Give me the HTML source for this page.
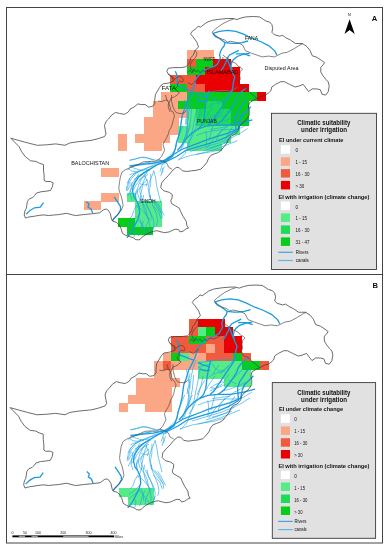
<!DOCTYPE html>
<html><head><meta charset="utf-8"><title>Climatic suitability under irrigation</title>
<style>html,body{margin:0;padding:0;background:#fff;} svg{display:block;}</style></head>
<body>
<svg width="390" height="550" viewBox="0 0 390 550">
<rect width="390" height="550" fill="#fff"/>
<g><g shape-rendering="crispEdges"><rect x="187.00" y="50.10" width="9.15" height="8.80" fill="#fba685"/>
<rect x="195.75" y="50.10" width="9.15" height="8.80" fill="#fba685"/>
<rect x="204.50" y="50.10" width="9.15" height="8.80" fill="#fba685"/>
<rect x="187.00" y="58.50" width="9.15" height="8.80" fill="#f25a3e"/>
<rect x="195.75" y="58.50" width="9.15" height="8.80" fill="#06cc1a"/>
<rect x="204.50" y="58.50" width="9.15" height="8.80" fill="#06cc1a"/>
<rect x="213.25" y="58.50" width="9.15" height="8.80" fill="#ea0000"/>
<rect x="222.00" y="58.50" width="9.15" height="8.80" fill="#ea0000"/>
<rect x="187.00" y="66.90" width="9.15" height="8.80" fill="#06cc1a"/>
<rect x="195.75" y="66.90" width="9.15" height="8.80" fill="#06cc1a"/>
<rect x="204.50" y="66.90" width="9.15" height="8.80" fill="#ea0000"/>
<rect x="213.25" y="66.90" width="9.15" height="8.80" fill="#ea0000"/>
<rect x="222.00" y="66.90" width="9.15" height="8.80" fill="#ea0000"/>
<rect x="230.75" y="66.90" width="9.15" height="8.80" fill="#ea0000"/>
<rect x="169.80" y="75.30" width="9.00" height="8.80" fill="#f25a3e"/>
<rect x="178.40" y="75.30" width="9.00" height="8.80" fill="#f25a3e"/>
<rect x="187.00" y="75.30" width="9.15" height="8.80" fill="#f25a3e"/>
<rect x="195.75" y="75.30" width="9.15" height="8.80" fill="#ea0000"/>
<rect x="204.50" y="75.30" width="9.15" height="8.80" fill="#ea0000"/>
<rect x="213.25" y="75.30" width="9.15" height="8.80" fill="#ea0000"/>
<rect x="222.00" y="75.30" width="9.15" height="8.80" fill="#ea0000"/>
<rect x="230.75" y="75.30" width="9.15" height="8.80" fill="#ea0000"/>
<rect x="169.80" y="83.70" width="9.00" height="8.80" fill="#06cc1a"/>
<rect x="178.40" y="83.70" width="9.00" height="8.80" fill="#06cc1a"/>
<rect x="187.00" y="83.70" width="9.15" height="8.80" fill="#f25a3e"/>
<rect x="195.75" y="83.70" width="9.15" height="8.80" fill="#f25a3e"/>
<rect x="204.50" y="83.70" width="9.15" height="8.80" fill="#ea0000"/>
<rect x="213.25" y="83.70" width="9.15" height="8.80" fill="#ea0000"/>
<rect x="222.00" y="83.70" width="9.15" height="8.80" fill="#ea0000"/>
<rect x="230.75" y="83.70" width="9.15" height="8.80" fill="#ea0000"/>
<rect x="239.50" y="83.70" width="9.15" height="8.80" fill="#ea0000"/>
<rect x="161.20" y="92.10" width="9.00" height="8.80" fill="#fba685"/>
<rect x="169.80" y="92.10" width="9.00" height="8.80" fill="#fba685"/>
<rect x="178.40" y="92.10" width="9.00" height="8.80" fill="#fba685"/>
<rect x="187.00" y="92.10" width="9.15" height="8.80" fill="#06cc1a"/>
<rect x="195.75" y="92.10" width="9.15" height="8.80" fill="#06cc1a"/>
<rect x="204.50" y="92.10" width="9.15" height="8.80" fill="#06cc1a"/>
<rect x="213.25" y="92.10" width="9.15" height="8.80" fill="#06cc1a"/>
<rect x="222.00" y="92.10" width="9.15" height="8.80" fill="#06cc1a"/>
<rect x="230.75" y="92.10" width="9.15" height="8.80" fill="#06cc1a"/>
<rect x="239.50" y="92.10" width="9.15" height="8.80" fill="#06cc1a"/>
<rect x="248.25" y="92.10" width="9.15" height="8.80" fill="#06cc1a"/>
<rect x="257.00" y="92.10" width="9.15" height="8.80" fill="#ea0000"/>
<rect x="152.60" y="100.50" width="9.00" height="8.80" fill="#fba685"/>
<rect x="161.20" y="100.50" width="9.00" height="8.80" fill="#fba685"/>
<rect x="169.80" y="100.50" width="9.00" height="8.80" fill="#fba685"/>
<rect x="178.40" y="100.50" width="9.00" height="8.80" fill="#06cc1a"/>
<rect x="187.00" y="100.50" width="9.15" height="8.80" fill="#06cc1a"/>
<rect x="195.75" y="100.50" width="9.15" height="8.80" fill="#06cc1a"/>
<rect x="204.50" y="100.50" width="9.15" height="8.80" fill="#1ddc55"/>
<rect x="213.25" y="100.50" width="9.15" height="8.80" fill="#1ddc55"/>
<rect x="222.00" y="100.50" width="9.15" height="8.80" fill="#06cc1a"/>
<rect x="230.75" y="100.50" width="9.15" height="8.80" fill="#06cc1a"/>
<rect x="239.50" y="100.50" width="9.15" height="8.80" fill="#06cc1a"/>
<rect x="152.60" y="108.90" width="9.00" height="8.80" fill="#fba685"/>
<rect x="161.20" y="108.90" width="9.00" height="8.80" fill="#fba685"/>
<rect x="169.80" y="108.90" width="9.00" height="8.80" fill="#fba685"/>
<rect x="178.40" y="108.90" width="9.00" height="8.80" fill="#fba685"/>
<rect x="187.00" y="108.90" width="9.15" height="8.80" fill="#55ec88"/>
<rect x="195.75" y="108.90" width="9.15" height="8.80" fill="#1ddc55"/>
<rect x="204.50" y="108.90" width="9.15" height="8.80" fill="#1ddc55"/>
<rect x="213.25" y="108.90" width="9.15" height="8.80" fill="#1ddc55"/>
<rect x="222.00" y="108.90" width="9.15" height="8.80" fill="#1ddc55"/>
<rect x="230.75" y="108.90" width="9.15" height="8.80" fill="#06cc1a"/>
<rect x="239.50" y="108.90" width="9.15" height="8.80" fill="#06cc1a"/>
<rect x="144.00" y="117.30" width="9.00" height="8.80" fill="#fba685"/>
<rect x="152.60" y="117.30" width="9.00" height="8.80" fill="#fba685"/>
<rect x="161.20" y="117.30" width="9.00" height="8.80" fill="#fba685"/>
<rect x="169.80" y="117.30" width="9.00" height="8.80" fill="#fba685"/>
<rect x="187.00" y="117.30" width="9.15" height="8.80" fill="#55ec88"/>
<rect x="195.75" y="117.30" width="9.15" height="8.80" fill="#1ddc55"/>
<rect x="204.50" y="117.30" width="9.15" height="8.80" fill="#1ddc55"/>
<rect x="213.25" y="117.30" width="9.15" height="8.80" fill="#1ddc55"/>
<rect x="222.00" y="117.30" width="9.15" height="8.80" fill="#1ddc55"/>
<rect x="230.75" y="117.30" width="9.15" height="8.80" fill="#06cc1a"/>
<rect x="239.50" y="117.30" width="9.15" height="8.80" fill="#06cc1a"/>
<rect x="144.00" y="125.70" width="9.00" height="8.80" fill="#fba685"/>
<rect x="152.60" y="125.70" width="9.00" height="8.80" fill="#fba685"/>
<rect x="161.20" y="125.70" width="9.00" height="8.80" fill="#fba685"/>
<rect x="169.80" y="125.70" width="9.00" height="8.80" fill="#fba685"/>
<rect x="178.40" y="125.70" width="9.00" height="8.80" fill="#55ec88"/>
<rect x="187.00" y="125.70" width="9.15" height="8.80" fill="#55ec88"/>
<rect x="195.75" y="125.70" width="9.15" height="8.80" fill="#55ec88"/>
<rect x="204.50" y="125.70" width="9.15" height="8.80" fill="#55ec88"/>
<rect x="213.25" y="125.70" width="9.15" height="8.80" fill="#55ec88"/>
<rect x="222.00" y="125.70" width="9.15" height="8.80" fill="#55ec88"/>
<rect x="230.75" y="125.70" width="9.15" height="8.80" fill="#55ec88"/>
<rect x="118.20" y="134.10" width="9.00" height="8.80" fill="#fba685"/>
<rect x="135.40" y="134.10" width="9.00" height="8.80" fill="#fba685"/>
<rect x="144.00" y="134.10" width="9.00" height="8.80" fill="#fba685"/>
<rect x="152.60" y="134.10" width="9.00" height="8.80" fill="#fba685"/>
<rect x="161.20" y="134.10" width="9.00" height="8.80" fill="#fba685"/>
<rect x="178.40" y="134.10" width="9.00" height="8.80" fill="#55ec88"/>
<rect x="187.00" y="134.10" width="9.15" height="8.80" fill="#55ec88"/>
<rect x="195.75" y="134.10" width="9.15" height="8.80" fill="#55ec88"/>
<rect x="204.50" y="134.10" width="9.15" height="8.80" fill="#55ec88"/>
<rect x="213.25" y="134.10" width="9.15" height="8.80" fill="#55ec88"/>
<rect x="222.00" y="134.10" width="9.15" height="8.80" fill="#55ec88"/>
<rect x="118.20" y="142.50" width="9.00" height="8.80" fill="#fba685"/>
<rect x="144.00" y="142.50" width="9.00" height="8.80" fill="#fba685"/>
<rect x="152.60" y="142.50" width="9.00" height="8.80" fill="#fba685"/>
<rect x="187.00" y="142.50" width="9.15" height="8.80" fill="#55ec88"/>
<rect x="195.75" y="142.50" width="9.15" height="8.80" fill="#55ec88"/>
<rect x="204.50" y="142.50" width="9.15" height="8.80" fill="#55ec88"/>
<rect x="213.25" y="142.50" width="9.15" height="8.80" fill="#55ec88"/>
<rect x="101.00" y="167.70" width="9.00" height="8.80" fill="#fba685"/>
<rect x="109.60" y="167.70" width="9.00" height="8.80" fill="#fba685"/>
<rect x="101.00" y="192.90" width="9.00" height="8.80" fill="#fba685"/>
<rect x="109.60" y="192.90" width="9.00" height="8.80" fill="#fba685"/>
<rect x="126.80" y="192.90" width="9.00" height="8.80" fill="#55ec88"/>
<rect x="83.80" y="201.30" width="9.00" height="8.80" fill="#fba685"/>
<rect x="92.40" y="201.30" width="9.00" height="8.80" fill="#fba685"/>
<rect x="135.40" y="201.30" width="9.00" height="8.80" fill="#55ec88"/>
<rect x="144.00" y="201.30" width="9.00" height="8.80" fill="#55ec88"/>
<rect x="152.60" y="201.30" width="9.00" height="8.80" fill="#55ec88"/>
<rect x="135.40" y="209.70" width="9.00" height="8.80" fill="#55ec88"/>
<rect x="144.00" y="209.70" width="9.00" height="8.80" fill="#55ec88"/>
<rect x="152.60" y="209.70" width="9.00" height="8.80" fill="#55ec88"/>
<rect x="118.20" y="218.10" width="9.00" height="8.80" fill="#06cc1a"/>
<rect x="126.80" y="218.10" width="9.00" height="8.80" fill="#06cc1a"/>
<rect x="135.40" y="218.10" width="9.00" height="8.80" fill="#55ec88"/>
<rect x="144.00" y="218.10" width="9.00" height="8.80" fill="#55ec88"/>
<rect x="152.60" y="218.10" width="9.00" height="8.80" fill="#55ec88"/>
<rect x="126.80" y="226.50" width="9.00" height="8.80" fill="#06cc1a"/>
<rect x="135.40" y="226.50" width="9.00" height="8.80" fill="#06cc1a"/>
<rect x="144.00" y="226.50" width="9.00" height="8.80" fill="#06cc1a"/></g>
<polyline points="150.7,174.1 150.7,183.4 149.2,191.0 150.7,198.7 155.2,204.7 158.3,209.3 161.8,213.9 162.4,218.5" fill="none" stroke="#1fa2e4" stroke-opacity="0.72" stroke-width="0.85"/>
<polyline points="149.2,169.6 144.7,174.1 141.6,178.8 138.6,184.9 137.1,191.0 138.6,197.1 143.1,203.2 146.2,210.1 147.3,216.0 148.8,222.0" fill="none" stroke="#1fa2e4" stroke-opacity="0.72" stroke-width="0.85"/>
<polyline points="222.8,102.0 217.8,103.0 213.7,104.0 209.7,106.1 206.6,108.1" fill="none" stroke="#1fa2e4" stroke-opacity="0.72" stroke-width="0.85"/>
<polyline points="220.8,112.2 215.7,114.3 211.7,116.2 207.6,119.3" fill="none" stroke="#1fa2e4" stroke-opacity="0.72" stroke-width="0.85"/>
<polyline points="222.8,115.2 218.8,117.2 213.7,119.3 208.6,118.3" fill="none" stroke="#1fa2e4" stroke-opacity="0.72" stroke-width="0.85"/>
<polyline points="196.5,96.9 199.5,100.0 203.6,100.9" fill="none" stroke="#1fa2e4" stroke-opacity="0.72" stroke-width="0.85"/>
<polyline points="216.9,95.9 213.7,100.0 211.0,104.8" fill="none" stroke="#1fa2e4" stroke-opacity="0.72" stroke-width="0.85"/>
<polyline points="188.4,104.0 187.4,109.1 187.9,114.3 188.4,119.3" fill="none" stroke="#1fa2e4" stroke-opacity="0.72" stroke-width="0.85"/>
<polyline points="237.6,86.9 229.7,92.9 223.8,98.9 217.9,104.8" fill="none" stroke="#1fa2e4" stroke-opacity="0.72" stroke-width="0.85"/>
<polyline points="247.5,92.9 241.6,98.9 235.6,104.8 229.7,110.8 223.8,116.7" fill="none" stroke="#1fa2e4" stroke-opacity="0.72" stroke-width="0.85"/>
<polyline points="243.5,112.8 235.6,116.7 227.8,119.7 219.9,121.7" fill="none" stroke="#1fa2e4" stroke-opacity="0.72" stroke-width="0.85"/>
<polyline points="249.5,122.7 241.6,127.7 233.7,129.6 223.8,129.6 213.9,130.6 204.1,132.6 196.2,135.6" fill="none" stroke="#1fa2e4" stroke-opacity="0.72" stroke-width="0.85"/>
<polyline points="247.5,128.6 239.6,133.6 229.7,138.6 219.9,142.6 210.0,145.5 200.1,148.5 190.3,151.5" fill="none" stroke="#1fa2e4" stroke-opacity="0.72" stroke-width="0.85"/>
<polyline points="237.6,140.6 227.8,144.5 217.9,148.5 208.0,151.5 196.2,154.5" fill="none" stroke="#1fa2e4" stroke-opacity="0.72" stroke-width="0.85"/>
<polyline points="203.1,110.8 198.2,118.7 195.2,125.7" fill="none" stroke="#1fa2e4" stroke-opacity="0.72" stroke-width="0.85"/>
<polyline points="213.0,125.7 211.0,132.6 209.0,140.6" fill="none" stroke="#1fa2e4" stroke-opacity="0.72" stroke-width="0.85"/>
<polyline points="222.8,128.6 218.9,134.6 215.9,140.6" fill="none" stroke="#1fa2e4" stroke-opacity="0.72" stroke-width="0.85"/>
<polyline points="232.7,126.7 228.7,132.6 225.8,138.6" fill="none" stroke="#1fa2e4" stroke-opacity="0.72" stroke-width="0.85"/>
<polyline points="197.6,100.3 196.2,111.6 193.3,125.6 190.6,139.6 185.0,153.5 178.4,160.4" fill="none" stroke="#1fa2e4" stroke-opacity="0.72" stroke-width="0.85"/>
<polyline points="191.9,105.9 190.6,119.9 187.8,133.9 182.3,147.9" fill="none" stroke="#1fa2e4" stroke-opacity="0.72" stroke-width="0.85"/>
<polyline points="243.4,117.1 232.3,122.7 221.1,131.1 212.9,139.6 207.0,148.5" fill="none" stroke="#1fa2e4" stroke-opacity="0.72" stroke-width="0.85"/>
<polyline points="201.1,106.8 199.1,116.7 196.2,126.7 192.2,136.6 187.3,144.5" fill="none" stroke="#1fa2e4" stroke-opacity="0.72" stroke-width="0.85"/>
<polyline points="222.8,148.5 213.0,151.5 201.1,153.5 190.3,155.5 178.4,159.4" fill="none" stroke="#1fa2e4" stroke-opacity="0.72" stroke-width="0.85"/>
<polyline points="194.4,90.9 191.3,98.6 189.8,106.2 188.3,115.3 187.5,120.7 186.0,134.8 183.0,142.5" fill="none" stroke="#1fa2e4" stroke-opacity="0.72" stroke-width="0.85"/>
<polyline points="196.3,93.6 202.3,92.8 208.4,92.1 214.4,91.3 220.6,90.5 226.6,90.5 231.2,91.3" fill="none" stroke="#1fa2e4" stroke-opacity="0.72" stroke-width="0.85"/>
<polyline points="209.9,94.4 213.0,99.0 217.5,102.0 223.6,100.4 226.8,96.9" fill="none" stroke="#1fa2e4" stroke-opacity="0.72" stroke-width="0.85"/>
<polyline points="196.3,99.0 199.3,97.4 203.9,95.9 209.0,94.9" fill="none" stroke="#1fa2e4" stroke-opacity="0.72" stroke-width="0.85"/>
<polyline points="213.0,106.6 209.9,111.2 206.8,115.7 204.1,120.7" fill="none" stroke="#1fa2e4" stroke-opacity="0.72" stroke-width="0.85"/>
<polyline points="220.6,114.3 223.6,109.6 226.8,104.8" fill="none" stroke="#1fa2e4" stroke-opacity="0.72" stroke-width="0.85"/>
<polyline points="220.1,114.8 213.9,118.9 208.0,121.7" fill="none" stroke="#1fa2e4" stroke-opacity="0.72" stroke-width="0.85"/>
<polyline points="226.1,110.8 234.2,114.8" fill="none" stroke="#1fa2e4" stroke-opacity="0.72" stroke-width="0.85"/>
<polyline points="232.2,137.3 224.1,143.3 213.9,147.4 203.9,150.5" fill="none" stroke="#1fa2e4" stroke-opacity="0.72" stroke-width="0.85"/>
<polyline points="205.9,131.1 206.8,139.3 205.9,147.4" fill="none" stroke="#1fa2e4" stroke-opacity="0.72" stroke-width="0.85"/>
<polyline points="185.6,118.9 187.7,127.1 186.6,137.3" fill="none" stroke="#1fa2e4" stroke-opacity="0.72" stroke-width="0.85"/>
<polyline points="209.9,129.4 219.1,128.0 227.8,126.7" fill="none" stroke="#1fa2e4" stroke-opacity="0.72" stroke-width="0.85"/>
<polyline points="209.9,147.8 220.6,144.7 229.6,141.8" fill="none" stroke="#1fa2e4" stroke-opacity="0.72" stroke-width="0.85"/>
<polyline points="190.6,125.7 186.0,134.8 183.0,142.5 180.4,150.5" fill="none" stroke="#1fa2e4" stroke-opacity="0.72" stroke-width="0.85"/>
<polyline points="184.5,100.0 186.3,106.8 187.3,114.7 185.3,124.7" fill="none" stroke="#1fa2e4" stroke-opacity="0.72" stroke-width="0.85"/>
<polyline points="183.0,125.7 179.9,133.3 176.9,141.0 175.4,148.5 172.3,156.3" fill="none" stroke="#1fa2e4" stroke-opacity="0.72" stroke-width="0.85"/>
<polyline points="144.7,175.7 147.6,181.8 146.2,186.4" fill="none" stroke="#1fa2e4" stroke-opacity="0.72" stroke-width="0.85"/>
<polyline points="129.5,166.6 134.0,168.1 138.6,169.6 142.9,170.9" fill="none" stroke="#1fa2e4" stroke-opacity="0.72" stroke-width="0.85"/>
<polyline points="127.9,183.4 129.5,178.8 134.0,174.1 138.6,171.8" fill="none" stroke="#1fa2e4" stroke-opacity="0.72" stroke-width="0.85"/>
<polyline points="126.4,191.0 127.9,186.4 130.6,181.8" fill="none" stroke="#1fa2e4" stroke-opacity="0.72" stroke-width="0.85"/>
<polyline points="164.4,166.6 162.1,171.2 160.7,176.3" fill="none" stroke="#1fa2e4" stroke-opacity="0.72" stroke-width="0.85"/>
<polyline points="144.3,200.1 147.3,206.3 150.3,212.4 151.9,218.5" fill="none" stroke="#1fa2e4" stroke-opacity="0.72" stroke-width="0.85"/>
<polyline points="153.4,200.1 157.9,206.3 161.8,213.9" fill="none" stroke="#1fa2e4" stroke-opacity="0.72" stroke-width="0.85"/>
<polyline points="139.7,218.5 142.0,224.6 142.7,230.7" fill="none" stroke="#1fa2e4" stroke-opacity="0.72" stroke-width="0.85"/>
<polyline points="138.0,220.0 143.9,227.0 147.8,232.9" fill="none" stroke="#1fa2e4" stroke-opacity="0.72" stroke-width="0.85"/>
<polyline points="129.5,160.4 135.5,158.9 141.6,157.3 147.6,158.1 153.8,159.6" fill="none" stroke="#1fa2e4" stroke-opacity="0.72" stroke-width="0.85"/>
<polyline points="129.5,174.9 137.1,171.8 144.7,168.9 153.8,165.0 161.4,162.7" fill="none" stroke="#1fa2e4" stroke-opacity="0.72" stroke-width="0.85"/>
<polyline points="134.0,179.5 140.1,174.9 146.2,171.2 151.8,167.9" fill="none" stroke="#1fa2e4" stroke-opacity="0.72" stroke-width="0.85"/>
<polyline points="138.6,180.3 143.1,176.5 147.6,172.6" fill="none" stroke="#1fa2e4" stroke-opacity="0.72" stroke-width="0.85"/>
<polyline points="159.9,171.8 161.4,167.3 162.6,163.4" fill="none" stroke="#1fa2e4" stroke-opacity="0.72" stroke-width="0.85"/>
<polyline points="167.4,158.1 173.5,152.0" fill="none" stroke="#1fa2e4" stroke-opacity="0.72" stroke-width="0.85"/>
<polyline points="132.1,182.3 131.1,188.2 130.1,194.2 132.1,200.1" fill="none" stroke="#1fa2e4" stroke-opacity="0.72" stroke-width="0.85"/>
<polyline points="153.8,170.4 155.7,178.3 156.7,186.2 158.7,194.2 160.7,202.1" fill="none" stroke="#1fa2e4" stroke-opacity="0.72" stroke-width="0.85"/>
<polyline points="129.6,160.2 135.4,159.0 141.1,157.3 145.8,157.3 151.5,159.6 157.3,160.2 163.1,160.8 166.5,161.9" fill="none" stroke="#1fa2e4" stroke-opacity="0.72" stroke-width="0.85"/>
<polyline points="131.9,166.5 137.7,165.4 143.5,163.7 149.2,162.5 155.0,161.9 160.8,161.3 165.4,162.5" fill="none" stroke="#1fa2e4" stroke-opacity="0.72" stroke-width="0.85"/>
<polyline points="128.5,168.8 131.9,171.1 136.5,171.7 142.3,170.0 148.1,167.7 153.8,166.0 159.6,164.2 165.4,163.7" fill="none" stroke="#1fa2e4" stroke-opacity="0.72" stroke-width="0.85"/>
<polyline points="153.8,171.1 151.5,176.9 149.2,182.7 148.1,188.4 149.2,194.2 150.4,200.0" fill="none" stroke="#1fa2e4" stroke-opacity="0.72" stroke-width="0.85"/>
<polyline points="145.8,175.8 143.5,181.5 142.3,187.3 141.1,193.1 140.0,200.0" fill="none" stroke="#1fa2e4" stroke-opacity="0.72" stroke-width="0.85"/>
<polyline points="138.8,173.5 136.5,178.1 134.2,182.7 131.9,187.3 129.6,191.9 127.3,196.5" fill="none" stroke="#1fa2e4" stroke-opacity="0.72" stroke-width="0.85"/>
<polyline points="135.4,174.6 131.9,178.1 129.6,181.5 127.3,185.0 126.2,189.6" fill="none" stroke="#1fa2e4" stroke-opacity="0.72" stroke-width="0.85"/>
<polyline points="161.9,167.7 163.1,171.1 161.9,173.5" fill="none" stroke="#1fa2e4" stroke-opacity="0.72" stroke-width="0.85"/>
<polyline points="140.0,183.8 144.6,185.0 148.0,184.0" fill="none" stroke="#1fa2e4" stroke-opacity="0.72" stroke-width="0.85"/>
<polyline points="136.5,189.6 135.4,194.2 136.5,200.0" fill="none" stroke="#1fa2e4" stroke-opacity="0.72" stroke-width="0.85"/>
<polyline points="143.6,195.0 142.4,201.4 143.6,207.8 146.2,214.2 148.8,220.6 150.0,227.0 149.4,232.2" fill="none" stroke="#1fa2e4" stroke-opacity="0.72" stroke-width="0.85"/>
<polyline points="150.0,195.0 151.3,201.4 153.9,207.8 156.5,214.2 157.7,220.6 156.5,225.8" fill="none" stroke="#1fa2e4" stroke-opacity="0.72" stroke-width="0.85"/>
<polyline points="156.5,201.4 160.3,207.8 164.2,215.5" fill="none" stroke="#1fa2e4" stroke-opacity="0.72" stroke-width="0.85"/>
<polyline points="139.8,207.8 143.6,211.7 147.5,216.8 151.3,220.6" fill="none" stroke="#1fa2e4" stroke-opacity="0.72" stroke-width="0.85"/>
<polyline points="137.2,221.9 133.4,224.5 129.5,227.0 127.0,229.6" fill="none" stroke="#1fa2e4" stroke-opacity="0.72" stroke-width="0.85"/>
<polyline points="143.6,220.6 141.1,227.0 139.8,232.2 138.5,236.0" fill="none" stroke="#1fa2e4" stroke-opacity="0.72" stroke-width="0.85"/>
<polyline points="127.4,170.3 130.5,167.2 134.6,165.1 139.7,164.1 144.9,163.1 150.0,162.0" fill="none" stroke="#1fa2e4" stroke-opacity="0.72" stroke-width="0.85"/>
<polyline points="126.9,183.6 128.5,180.5 130.5,177.4 133.6,174.4 137.7,172.3 142.8,170.3 148.0,169.2" fill="none" stroke="#1fa2e4" stroke-opacity="0.72" stroke-width="0.85"/>
<polyline points="127.4,190.8 129.5,186.7 132.6,182.6 135.6,178.5 139.7,175.4 144.9,172.3 150.0,170.3" fill="none" stroke="#1fa2e4" stroke-opacity="0.72" stroke-width="0.85"/>
<polyline points="130.5,193.8 133.6,189.7 135.6,185.6 138.7,181.5 142.8,177.4 148.0,174.4" fill="none" stroke="#1fa2e4" stroke-opacity="0.72" stroke-width="0.85"/>
<polyline points="135.6,200.0 135.6,194.9 137.7,190.8 140.8,186.7 143.8,182.6 148.0,179.5" fill="none" stroke="#1fa2e4" stroke-opacity="0.72" stroke-width="0.85"/>
<polyline points="142.8,200.0 140.8,194.9 139.7,190.8 141.0,186.0" fill="none" stroke="#1fa2e4" stroke-opacity="0.72" stroke-width="0.85"/>
<polyline points="146.0,200.0 147.0,206.0 150.0,212.0 153.0,218.0 154.0,224.0 153.0,230.0" fill="none" stroke="#1fa2e4" stroke-opacity="0.72" stroke-width="0.85"/>
<polyline points="140.0,214.0 136.0,218.0 132.0,222.0 128.0,224.0" fill="none" stroke="#1fa2e4" stroke-opacity="0.72" stroke-width="0.85"/>
<polyline points="148.0,222.0 145.0,228.0 144.0,234.0" fill="none" stroke="#1fa2e4" stroke-opacity="0.72" stroke-width="0.85"/>
<polyline points="152.0,205.0 156.0,209.0 159.0,213.0 161.0,219.0" fill="none" stroke="#1fa2e4" stroke-opacity="0.72" stroke-width="0.85"/>
<polyline points="137.0,205.0 134.0,210.0 132.0,216.0 129.0,219.0" fill="none" stroke="#1fa2e4" stroke-opacity="0.72" stroke-width="0.85"/>
<polyline points="154.0,226.0 152.0,231.0 150.0,235.0" fill="none" stroke="#1fa2e4" stroke-opacity="0.72" stroke-width="0.85"/>
<polyline points="141.0,198.0 139.0,203.0 137.0,208.0" fill="none" stroke="#1fa2e4" stroke-opacity="0.72" stroke-width="0.85"/>
<polyline points="133.0,228.0 135.0,232.0 134.0,237.0" fill="none" stroke="#1fa2e4" stroke-opacity="0.72" stroke-width="0.85"/>
<polyline points="213.2,33.3 219.4,31.3 227.6,30.3 235.8,31.3 244.0,34.4 252.2,38.5 260.4,41.5 268.6,45.6 274.7,50.8 276.8,54.9" fill="none" stroke="#1a9be0" stroke-width="1.3"/>
<polyline points="213.2,33.3 215.3,36.4 219.4,38.5 225.0,42.6 231.7,43.4 235.8,43.4 241.9,42.6 248.0,41.0" fill="none" stroke="#1a9be0" stroke-width="1.3"/>
<polyline points="225.0,42.6 224.2,45.7 221.9,48.8 220.4,51.8 219.6,54.9 220.4,58.0 218.8,61.1 217.3,64.2 214.2,66.5 211.2,67.2 205.0,70.0 200.0,74.0 196.5,78.0 194.8,82.0 194.4,84.8" fill="none" stroke="#1a9be0" stroke-width="1.3"/>
<polyline points="238.8,50.3 234.2,52.6 229.6,54.9 227.3,58.0 226.5,61.1 224.0,66.0 221.0,71.0" fill="none" stroke="#1a9be0" stroke-width="1.3"/>
<polyline points="249.6,53.4 243.5,54.2 237.3,56.5 233.5,59.5 231.9,61.8 231.0,66.0 232.0,70.0" fill="none" stroke="#1a9be0" stroke-width="1.3"/>
<polyline points="235.8,53.8 244.0,53.8 250.1,55.9" fill="none" stroke="#1a9be0" stroke-width="1.3"/>
<polyline points="194.4,84.8 192.8,89.4 189.8,95.5 186.8,101.6 184.5,109.3 182.2,115.3 181.4,120.7 180.4,128.6 178.4,136.6 176.5,142.6 175.4,148.5 172.3,156.3 166.6,160.4 163.2,161.9 156.8,165.0 149.2,169.6 143.1,173.4 138.6,177.2 135.5,181.8 133.2,186.4 132.5,191.0 134.0,197.1 137.1,201.6 139.0,206.3 139.7,212.4 138.2,218.5 135.2,224.6 132.2,230.7 129.1,235.3 126.8,237.6" fill="none" stroke="#1a9be0" stroke-width="1.3"/>
<polyline points="175.4,71.1 177.6,77.2 176.9,83.3 179.2,86.3 183.4,87.9 188.3,89.9 191.2,90.9" fill="none" stroke="#1a9be0" stroke-width="1.3"/>
<polyline points="227.0,58.5 229.9,66.1 233.0,73.8 234.7,77.0 233.5,82.2 232.7,88.2 231.2,92.8 228.1,97.4 225.1,102.0 222.0,106.6 219.1,111.2 216.0,115.7 212.0,121.7 208.0,125.2" fill="none" stroke="#1a9be0" stroke-width="1.3"/>
<polyline points="246.3,88.2 241.8,91.3 238.8,94.4 235.7,99.0 234.2,103.5 231.2,108.1 228.1,112.7 225.9,115.7 221.8,120.7 216.0,125.1" fill="none" stroke="#1a9be0" stroke-width="1.3"/>
<polyline points="252.4,119.9 240.3,123.0 228.1,125.1 216.0,125.1 205.9,126.1 197.8,129.1 191.7,133.2 185.6,139.3 181.6,145.4 177.5,150.5" fill="none" stroke="#1a9be0" stroke-width="1.3"/>
<polyline points="250.9,106.6 246.3,111.2 241.8,115.7 239.6,121.7 238.2,129.1 228.1,133.2 218.0,136.2 207.9,139.3 197.8,143.3 189.7,146.4 181.6,149.5 173.5,154.5 166.6,158.9 163.2,160.9" fill="none" stroke="#1a9be0" stroke-width="1.3"/>
<polyline points="246.3,99.0 243.3,103.5 240.3,108.1 237.2,112.7 235.2,118.7 236.2,131.1 226.1,137.3 216.0,141.4 205.9,144.3 195.8,147.4 185.6,150.5 176.5,156.5 168.6,160.4 163.2,162.9" fill="none" stroke="#1a9be0" stroke-width="1.3"/>
<polyline points="208.8,90.9 206.5,100.0 205.0,109.3 203.9,118.9 201.8,125.1 197.8,129.1" fill="none" stroke="#1a9be0" stroke-width="1.3"/>
<polyline points="114.3,197.1 117.4,201.6 120.4,206.3 120.7,209.6 118.4,213.9 113.9,218.5 112.4,220.8" fill="none" stroke="#1a9be0" stroke-width="1.3"/>
<polyline points="173.5,155.1 164.4,161.2 159.9,161.9 152.3,163.5 144.7,164.2 137.1,165.0 129.5,165.8" fill="none" stroke="#1a9be0" stroke-width="1.3"/>
<polyline points="43.5,202.7 40.3,207.2 34.5,207.8 30.0,210.4 26.2,214.2" fill="none" stroke="#1a9be0" stroke-width="1.3"/>
<polyline points="86.4,201.7 89.0,204.0 88.0,207.0 91.0,209.0 92.6,213.0" fill="none" stroke="#1a9be0" stroke-width="1.3"/>
<polyline points="195.9,93.2 200.4,95.5 208.0,97.9" fill="none" stroke="#1a9be0" stroke-width="1.3"/>
<polyline points="197.4,100.0 203.5,101.6 208.0,100.8" fill="none" stroke="#1a9be0" stroke-width="1.3"/>
<polyline points="233.5,19.1 229.0,20.6 222.8,23.7 218.3,26.8 214.4,29.8 212.2,32.1 213.0,34.3 216.0,35.9 219.8,38.3 224.3,39.8 227.4,42.1 230.4,41.3 235.0,42.1 239.6,43.5 242.6,45.0 245.5,50.8 251.6,53.2 257.8,55.4 262.3,56.9 268.4,56.1 274.4,56.9 279.0,54.7 282.0,53.2 287.3,52.3 293.8,48.8 300.0,45.0 303.0,43.5" fill="none" stroke="#4a4040" stroke-width="0.65"/>
<polyline points="222.8,55.0 226.0,57.5 228.9,59.1 231.9,61.5 235.6,63.1 238.0,66.1 241.1,67.6 242.5,69.1 240.3,71.5 239.6,75.2 240.3,79.0 238.8,82.0 241.1,86.7 245.5,88.2 247.9,90.5 250.2,92.9 253.0,95.0 257.0,98.5" fill="none" stroke="#4a4040" stroke-width="0.65"/>
<polyline points="195.0,50.6 197.0,53.0 196.0,57.0 193.0,60.0 191.0,63.0 190.0,66.0 191.0,69.0 194.0,72.0" fill="none" stroke="#4a4040" stroke-width="0.65"/>
<polyline points="168.2,73.9 170.3,76.4 173.4,77.4 174.4,79.4 173.4,81.5 171.3,82.0" fill="none" stroke="#4a4040" stroke-width="0.65"/>
<polyline points="174.4,79.4 178.5,76.4 181.6,76.9 183.6,80.0 182.6,82.0 179.5,81.0 177.5,84.0 177.5,86.6 175.4,88.7 177.5,91.7 179.5,92.8 177.5,94.8 174.4,96.9 171.3,97.9 170.3,100.0 169.3,102.0 168.3,104.0 168.3,107.1 169.3,110.2 170.3,112.0" fill="none" stroke="#4a4040" stroke-width="0.65"/>
<polyline points="158.0,101.0 162.1,101.5 165.7,100.0 168.0,101.0" fill="none" stroke="#4a4040" stroke-width="0.65"/>
<polyline points="187.7,82.5 191.8,84.6 194.9,81.5 197.0,80.5" fill="none" stroke="#4a4040" stroke-width="0.65"/>
<polyline points="188.0,72.5 190.0,70.0 192.0,73.0 194.0,69.0 196.0,72.0 198.0,70.0 200.0,73.0 203.0,70.0 205.0,72.0 208.0,69.0 212.0,70.0 216.0,68.0 220.0,66.0 223.0,62.0 222.8,57.0" fill="none" stroke="#4a4040" stroke-width="0.65"/>
<polyline points="165.4,95.0 166.9,99.6 168.5,101.9 170.0,106.5 170.8,110.4 173.1,111.9 173.8,114.2 174.6,115.8 173.1,120.4 172.3,124.2 170.8,128.1 169.2,130.4 168.5,133.5 166.9,137.3 164.6,141.2 163.0,144.2 163.8,147.3 164.6,150.4 163.0,153.5 161.5,156.5 158.5,159.6 155.4,161.2 147.7,161.5 143.5,161.8 137.1,165.0 130.7,167.4 125.2,169.8 122.0,172.2 120.4,176.9 119.6,181.7 118.8,188.0 119.5,192.0 121.2,196.0 122.2,200.2 123.1,205.5 121.4,210.0 117.0,215.4 112.2,220.5" fill="none" stroke="#4a4040" stroke-width="0.65"/>
<polyline points="171.5,95.0 171.5,101.2 173.1,107.3 174.6,110.4 176.2,112.7 178.5,113.2 181.5,113.5 184.6,112.7 186.2,110.4" fill="none" stroke="#4a4040" stroke-width="0.65"/>
<polyline points="158.5,159.6 164.0,161.5 167.0,163.5 168.6,167.2 172.3,169.5" fill="none" stroke="#4a4040" stroke-width="0.65"/>
<polygon points="195.0,50.6 198.5,46.9 196.9,42.3 193.1,36.9 190.5,33.8 192.3,31.2 196.2,28.5 198.2,26.2 200.3,27.2 203.1,25.1 206.9,22.3 212.3,20.3 220.0,19.2 227.7,18.5 233.0,18.5 237.0,19.5 241.0,18.0 245.8,16.9 253.5,16.5 259.6,16.9 263.5,19.5 265.8,21.0 269.6,22.0 271.9,24.6 272.7,28.5 271.9,32.3 274.2,34.6 279.6,36.2 282.7,35.4 285.8,37.7 290.4,40.0 295.4,43.5 302.3,43.5 306.9,46.5 310.0,50.4 312.3,55.8 316.9,57.3 321.5,60.4 324.6,62.7 323.0,65.0 320.8,67.3 320.8,72.0 323.0,75.8 326.0,79.6 328.3,82.0 329.2,86.2 328.3,91.5 325.7,95.1 322.0,94.2 320.3,89.7 316.7,88.9 312.2,88.9 308.6,91.5 305.9,88.0 303.2,84.4 298.7,86.2 295.1,87.0 289.7,84.4 284.4,81.7 280.8,81.7 275.4,84.4 271.8,87.0 270.8,90.8 268.5,93.0 266.0,94.6 262.0,96.0 257.0,98.5 253.8,100.0 249.2,103.0 248.5,107.0 249.2,110.0 249.2,115.4 247.7,117.7 245.4,120.8 241.5,123.8 239.2,127.0 238.5,130.0 237.0,132.5 234.6,134.6 230.8,136.2 228.5,139.2 226.9,143.1 223.8,146.9 220.8,150.8 217.7,152.8 214.6,153.8 210.8,155.4 208.5,158.5 206.9,162.3 203.8,166.2 200.8,169.2 196.2,170.3 191.5,170.8 186.9,171.5 182.3,170.8 179.2,167.7 176.2,167.4 172.3,170.8 168.5,175.4 164.6,179.2 161.5,183.1 160.8,187.7 163.8,190.8 169.2,192.3 172.3,194.6 172.0,198.0 170.8,200.5 171.5,203.5 175.4,205.8 179.2,208.1 180.8,211.9 183.1,216.5 186.2,221.2 186.9,225.8 188.5,228.1 186.2,228.8 183.1,231.2 180.0,231.9 178.5,229.6 175.4,229.2 172.3,230.4 169.2,231.9 164.6,232.7 160.0,231.6 156.9,230.7 153.8,231.2 150.0,232.5 145.0,235.0 141.7,237.5 140.0,239.5 138.5,239.8 135.9,239.7 133.3,237.8 129.5,236.5 125.6,235.3 122.4,233.3 121.2,228.8 119.2,225.0 116.7,222.4 112.8,221.2 111.5,219.2 110.3,213.5 108.3,210.3 106.4,209.0 103.8,209.6 99.7,212.8 91.5,213.8 83.3,214.6 75.4,215.6 66.5,213.3 58.7,214.6 55.0,214.9 48.6,215.5 43.5,214.9 38.3,215.5 34.5,216.2 30.0,216.8 27.4,217.4 25.5,218.1 24.2,214.9 24.9,211.0 26.2,208.5 26.8,205.3 27.4,201.4 29.4,198.8 32.6,197.6 34.5,195.6 36.4,193.1 40.9,191.8 46.0,191.2 50.5,190.5 52.4,186.7 53.1,182.8 50.5,181.5 46.0,181.5 44.1,180.3 44.1,175.1 43.5,170.0 43.5,164.6 39.6,163.3 35.8,161.4 30.6,160.8 25.5,156.9 21.7,151.8 19.1,146.7 15.3,142.8 10.8,138.2 18.9,140.5 28.1,143.0 37.3,145.3 46.6,144.8 55.8,143.9 65.0,145.3 69.7,143.0 78.9,141.6 88.1,140.7 91.0,140.4 97.4,138.9 104.5,136.5 106.0,134.1 105.3,130.2 104.5,125.4 106.1,121.4 108.5,119.0 111.7,115.0 115.6,112.4 119.6,113.5 124.4,114.3 128.4,111.9 130.0,109.2 133.9,107.1 137.9,103.9 141.9,104.7 145.0,104.4 148.5,107.1 152.7,106.4 154.8,103.5 154.8,98.6 155.5,94.4 157.6,90.8 159.7,87.3 161.2,85.2 163.3,83.8 168.2,83.1 171.0,82.4 173.1,80.3 172.4,77.4 170.3,75.3 168.2,73.9 166.8,71.1 168.2,68.3 173.9,67.6 180.9,67.6 185.8,66.9 188.0,64.7 190.1,61.2 190.8,57.7 192.9,55.6 194.3,52.8" fill="none" stroke="#3c3c3c" stroke-width="0.75"/>

<g font-family="Liberation Sans, Arial, sans-serif" fill="#111" font-size="5">
<text x="245" y="39.5">FANA</text>
<text x="264.5" y="70.2" font-size="5.3" textLength="34" lengthAdjust="spacingAndGlyphs">Disputed Area</text>
<text x="203.5" y="61.3" textLength="11.5" lengthAdjust="spacingAndGlyphs">NWFP</text>
<text x="206.8" y="73.8" fill="#300" font-size="5.5" textLength="31.5" lengthAdjust="spacingAndGlyphs">ISLAMABAD</text>
<text x="161.5" y="89.6" font-size="5.4" textLength="14.5" lengthAdjust="spacingAndGlyphs">FATA</text>
<text x="197" y="123">PUNJAB</text>
<text x="71.2" y="165.2" font-size="5.4" textLength="38" lengthAdjust="spacingAndGlyphs">BALOCHISTAN</text>
<text x="140" y="203">SINDH</text>
</g></g>
<g transform="matrix(1.0136 0 0 1.007 -0.85 268.45)"><g shape-rendering="crispEdges"><rect x="187.00" y="50.10" width="9.15" height="8.80" fill="#f25a3e"/>
<rect x="195.75" y="50.10" width="9.15" height="8.80" fill="#ea0000"/>
<rect x="204.50" y="50.10" width="9.15" height="8.80" fill="#ea0000"/>
<rect x="213.25" y="50.10" width="9.15" height="8.80" fill="#ea0000"/>
<rect x="187.00" y="58.50" width="9.15" height="8.80" fill="#f25a3e"/>
<rect x="195.75" y="58.50" width="9.15" height="8.80" fill="#55ec88"/>
<rect x="204.50" y="58.50" width="9.15" height="8.80" fill="#06cc1a"/>
<rect x="213.25" y="58.50" width="9.15" height="8.80" fill="#ea0000"/>
<rect x="222.00" y="58.50" width="9.15" height="8.80" fill="#ea0000"/>
<rect x="169.80" y="66.90" width="9.00" height="8.80" fill="#f25a3e"/>
<rect x="178.40" y="66.90" width="9.00" height="8.80" fill="#f25a3e"/>
<rect x="187.00" y="66.90" width="9.15" height="8.80" fill="#06cc1a"/>
<rect x="195.75" y="66.90" width="9.15" height="8.80" fill="#06cc1a"/>
<rect x="204.50" y="66.90" width="9.15" height="8.80" fill="#f25a3e"/>
<rect x="213.25" y="66.90" width="9.15" height="8.80" fill="#f25a3e"/>
<rect x="222.00" y="66.90" width="9.15" height="8.80" fill="#ea0000"/>
<rect x="230.75" y="66.90" width="9.15" height="8.80" fill="#ea0000"/>
<rect x="169.80" y="75.30" width="9.00" height="8.80" fill="#f25a3e"/>
<rect x="178.40" y="75.30" width="9.00" height="8.80" fill="#f25a3e"/>
<rect x="187.00" y="75.30" width="9.15" height="8.80" fill="#f25a3e"/>
<rect x="195.75" y="75.30" width="9.15" height="8.80" fill="#f25a3e"/>
<rect x="204.50" y="75.30" width="9.15" height="8.80" fill="#fba685"/>
<rect x="213.25" y="75.30" width="9.15" height="8.80" fill="#f25a3e"/>
<rect x="222.00" y="75.30" width="9.15" height="8.80" fill="#ea0000"/>
<rect x="230.75" y="75.30" width="9.15" height="8.80" fill="#ea0000"/>
<rect x="161.20" y="83.70" width="9.00" height="8.80" fill="#fba685"/>
<rect x="169.80" y="83.70" width="9.00" height="8.80" fill="#06cc1a"/>
<rect x="178.40" y="83.70" width="9.00" height="8.80" fill="#55ec88"/>
<rect x="187.00" y="83.70" width="9.15" height="8.80" fill="#fba685"/>
<rect x="195.75" y="83.70" width="9.15" height="8.80" fill="#fba685"/>
<rect x="204.50" y="83.70" width="9.15" height="8.80" fill="#f25a3e"/>
<rect x="213.25" y="83.70" width="9.15" height="8.80" fill="#f25a3e"/>
<rect x="222.00" y="83.70" width="9.15" height="8.80" fill="#f25a3e"/>
<rect x="230.75" y="83.70" width="9.15" height="8.80" fill="#06cc1a"/>
<rect x="239.50" y="83.70" width="9.15" height="8.80" fill="#f25a3e"/>
<rect x="152.60" y="92.10" width="9.00" height="8.80" fill="#fba685"/>
<rect x="161.20" y="92.10" width="9.00" height="8.80" fill="#f25a3e"/>
<rect x="169.80" y="92.10" width="9.00" height="8.80" fill="#fba685"/>
<rect x="178.40" y="92.10" width="9.00" height="8.80" fill="#fba685"/>
<rect x="187.00" y="92.10" width="9.15" height="8.80" fill="#fba685"/>
<rect x="195.75" y="92.10" width="9.15" height="8.80" fill="#55ec88"/>
<rect x="204.50" y="92.10" width="9.15" height="8.80" fill="#55ec88"/>
<rect x="213.25" y="92.10" width="9.15" height="8.80" fill="#55ec88"/>
<rect x="222.00" y="92.10" width="9.15" height="8.80" fill="#55ec88"/>
<rect x="230.75" y="92.10" width="9.15" height="8.80" fill="#55ec88"/>
<rect x="239.50" y="92.10" width="9.15" height="8.80" fill="#06cc1a"/>
<rect x="248.25" y="92.10" width="9.15" height="8.80" fill="#06cc1a"/>
<rect x="257.00" y="92.10" width="9.15" height="8.80" fill="#f25a3e"/>
<rect x="152.60" y="100.50" width="9.00" height="8.80" fill="#fba685"/>
<rect x="161.20" y="100.50" width="9.00" height="8.80" fill="#fba685"/>
<rect x="195.75" y="100.50" width="9.15" height="8.80" fill="#55ec88"/>
<rect x="204.50" y="100.50" width="9.15" height="8.80" fill="#55ec88"/>
<rect x="213.25" y="100.50" width="9.15" height="8.80" fill="#55ec88"/>
<rect x="222.00" y="100.50" width="9.15" height="8.80" fill="#55ec88"/>
<rect x="230.75" y="100.50" width="9.15" height="8.80" fill="#55ec88"/>
<rect x="239.50" y="100.50" width="9.15" height="8.80" fill="#55ec88"/>
<rect x="135.40" y="108.90" width="9.00" height="8.80" fill="#fba685"/>
<rect x="144.00" y="108.90" width="9.00" height="8.80" fill="#fba685"/>
<rect x="152.60" y="108.90" width="9.00" height="8.80" fill="#fba685"/>
<rect x="161.20" y="108.90" width="9.00" height="8.80" fill="#fba685"/>
<rect x="169.80" y="108.90" width="9.00" height="8.80" fill="#fba685"/>
<rect x="222.00" y="108.90" width="9.15" height="8.80" fill="#55ec88"/>
<rect x="230.75" y="108.90" width="9.15" height="8.80" fill="#55ec88"/>
<rect x="239.50" y="108.90" width="9.15" height="8.80" fill="#55ec88"/>
<rect x="135.40" y="117.30" width="9.00" height="8.80" fill="#fba685"/>
<rect x="144.00" y="117.30" width="9.00" height="8.80" fill="#fba685"/>
<rect x="152.60" y="117.30" width="9.00" height="8.80" fill="#fba685"/>
<rect x="161.20" y="117.30" width="9.00" height="8.80" fill="#fba685"/>
<rect x="126.80" y="125.70" width="9.00" height="8.80" fill="#fba685"/>
<rect x="135.40" y="125.70" width="9.00" height="8.80" fill="#fba685"/>
<rect x="144.00" y="125.70" width="9.00" height="8.80" fill="#fba685"/>
<rect x="152.60" y="125.70" width="9.00" height="8.80" fill="#fba685"/>
<rect x="161.20" y="125.70" width="9.00" height="8.80" fill="#fba685"/>
<rect x="118.20" y="134.10" width="9.00" height="8.80" fill="#fba685"/>
<rect x="144.00" y="134.10" width="9.00" height="8.80" fill="#fba685"/>
<rect x="152.60" y="134.10" width="9.00" height="8.80" fill="#fba685"/>
<rect x="161.20" y="134.10" width="9.00" height="8.80" fill="#fba685"/>
<rect x="118.20" y="218.10" width="9.00" height="8.80" fill="#55ec88"/>
<rect x="126.80" y="218.10" width="9.00" height="8.80" fill="#55ec88"/>
<rect x="135.40" y="218.10" width="9.00" height="8.80" fill="#55ec88"/>
<rect x="144.00" y="218.10" width="9.00" height="8.80" fill="#55ec88"/>
<rect x="126.80" y="226.50" width="9.00" height="8.80" fill="#55ec88"/>
<rect x="135.40" y="226.50" width="9.00" height="8.80" fill="#55ec88"/>
<rect x="144.00" y="226.50" width="9.00" height="8.80" fill="#55ec88"/></g>
<polyline points="150.7,174.1 150.7,183.4 149.2,191.0 150.7,198.7 155.2,204.7 158.3,209.3 161.8,213.9 162.4,218.5" fill="none" stroke="#1fa2e4" stroke-opacity="0.72" stroke-width="0.85"/>
<polyline points="149.2,169.6 144.7,174.1 141.6,178.8 138.6,184.9 137.1,191.0 138.6,197.1 143.1,203.2 146.2,210.1 147.3,216.0 148.8,222.0" fill="none" stroke="#1fa2e4" stroke-opacity="0.72" stroke-width="0.85"/>
<polyline points="222.8,102.0 217.8,103.0 213.7,104.0 209.7,106.1 206.6,108.1" fill="none" stroke="#1fa2e4" stroke-opacity="0.72" stroke-width="0.85"/>
<polyline points="220.8,112.2 215.7,114.3 211.7,116.2 207.6,119.3" fill="none" stroke="#1fa2e4" stroke-opacity="0.72" stroke-width="0.85"/>
<polyline points="222.8,115.2 218.8,117.2 213.7,119.3 208.6,118.3" fill="none" stroke="#1fa2e4" stroke-opacity="0.72" stroke-width="0.85"/>
<polyline points="196.5,96.9 199.5,100.0 203.6,100.9" fill="none" stroke="#1fa2e4" stroke-opacity="0.72" stroke-width="0.85"/>
<polyline points="216.9,95.9 213.7,100.0 211.0,104.8" fill="none" stroke="#1fa2e4" stroke-opacity="0.72" stroke-width="0.85"/>
<polyline points="188.4,104.0 187.4,109.1 187.9,114.3 188.4,119.3" fill="none" stroke="#1fa2e4" stroke-opacity="0.72" stroke-width="0.85"/>
<polyline points="237.6,86.9 229.7,92.9 223.8,98.9 217.9,104.8" fill="none" stroke="#1fa2e4" stroke-opacity="0.72" stroke-width="0.85"/>
<polyline points="247.5,92.9 241.6,98.9 235.6,104.8 229.7,110.8 223.8,116.7" fill="none" stroke="#1fa2e4" stroke-opacity="0.72" stroke-width="0.85"/>
<polyline points="243.5,112.8 235.6,116.7 227.8,119.7 219.9,121.7" fill="none" stroke="#1fa2e4" stroke-opacity="0.72" stroke-width="0.85"/>
<polyline points="249.5,122.7 241.6,127.7 233.7,129.6 223.8,129.6 213.9,130.6 204.1,132.6 196.2,135.6" fill="none" stroke="#1fa2e4" stroke-opacity="0.72" stroke-width="0.85"/>
<polyline points="247.5,128.6 239.6,133.6 229.7,138.6 219.9,142.6 210.0,145.5 200.1,148.5 190.3,151.5" fill="none" stroke="#1fa2e4" stroke-opacity="0.72" stroke-width="0.85"/>
<polyline points="237.6,140.6 227.8,144.5 217.9,148.5 208.0,151.5 196.2,154.5" fill="none" stroke="#1fa2e4" stroke-opacity="0.72" stroke-width="0.85"/>
<polyline points="203.1,110.8 198.2,118.7 195.2,125.7" fill="none" stroke="#1fa2e4" stroke-opacity="0.72" stroke-width="0.85"/>
<polyline points="213.0,125.7 211.0,132.6 209.0,140.6" fill="none" stroke="#1fa2e4" stroke-opacity="0.72" stroke-width="0.85"/>
<polyline points="222.8,128.6 218.9,134.6 215.9,140.6" fill="none" stroke="#1fa2e4" stroke-opacity="0.72" stroke-width="0.85"/>
<polyline points="232.7,126.7 228.7,132.6 225.8,138.6" fill="none" stroke="#1fa2e4" stroke-opacity="0.72" stroke-width="0.85"/>
<polyline points="197.6,100.3 196.2,111.6 193.3,125.6 190.6,139.6 185.0,153.5 178.4,160.4" fill="none" stroke="#1fa2e4" stroke-opacity="0.72" stroke-width="0.85"/>
<polyline points="191.9,105.9 190.6,119.9 187.8,133.9 182.3,147.9" fill="none" stroke="#1fa2e4" stroke-opacity="0.72" stroke-width="0.85"/>
<polyline points="243.4,117.1 232.3,122.7 221.1,131.1 212.9,139.6 207.0,148.5" fill="none" stroke="#1fa2e4" stroke-opacity="0.72" stroke-width="0.85"/>
<polyline points="201.1,106.8 199.1,116.7 196.2,126.7 192.2,136.6 187.3,144.5" fill="none" stroke="#1fa2e4" stroke-opacity="0.72" stroke-width="0.85"/>
<polyline points="222.8,148.5 213.0,151.5 201.1,153.5 190.3,155.5 178.4,159.4" fill="none" stroke="#1fa2e4" stroke-opacity="0.72" stroke-width="0.85"/>
<polyline points="194.4,90.9 191.3,98.6 189.8,106.2 188.3,115.3 187.5,120.7 186.0,134.8 183.0,142.5" fill="none" stroke="#1fa2e4" stroke-opacity="0.72" stroke-width="0.85"/>
<polyline points="196.3,93.6 202.3,92.8 208.4,92.1 214.4,91.3 220.6,90.5 226.6,90.5 231.2,91.3" fill="none" stroke="#1fa2e4" stroke-opacity="0.72" stroke-width="0.85"/>
<polyline points="209.9,94.4 213.0,99.0 217.5,102.0 223.6,100.4 226.8,96.9" fill="none" stroke="#1fa2e4" stroke-opacity="0.72" stroke-width="0.85"/>
<polyline points="196.3,99.0 199.3,97.4 203.9,95.9 209.0,94.9" fill="none" stroke="#1fa2e4" stroke-opacity="0.72" stroke-width="0.85"/>
<polyline points="213.0,106.6 209.9,111.2 206.8,115.7 204.1,120.7" fill="none" stroke="#1fa2e4" stroke-opacity="0.72" stroke-width="0.85"/>
<polyline points="220.6,114.3 223.6,109.6 226.8,104.8" fill="none" stroke="#1fa2e4" stroke-opacity="0.72" stroke-width="0.85"/>
<polyline points="220.1,114.8 213.9,118.9 208.0,121.7" fill="none" stroke="#1fa2e4" stroke-opacity="0.72" stroke-width="0.85"/>
<polyline points="226.1,110.8 234.2,114.8" fill="none" stroke="#1fa2e4" stroke-opacity="0.72" stroke-width="0.85"/>
<polyline points="232.2,137.3 224.1,143.3 213.9,147.4 203.9,150.5" fill="none" stroke="#1fa2e4" stroke-opacity="0.72" stroke-width="0.85"/>
<polyline points="205.9,131.1 206.8,139.3 205.9,147.4" fill="none" stroke="#1fa2e4" stroke-opacity="0.72" stroke-width="0.85"/>
<polyline points="185.6,118.9 187.7,127.1 186.6,137.3" fill="none" stroke="#1fa2e4" stroke-opacity="0.72" stroke-width="0.85"/>
<polyline points="209.9,129.4 219.1,128.0 227.8,126.7" fill="none" stroke="#1fa2e4" stroke-opacity="0.72" stroke-width="0.85"/>
<polyline points="209.9,147.8 220.6,144.7 229.6,141.8" fill="none" stroke="#1fa2e4" stroke-opacity="0.72" stroke-width="0.85"/>
<polyline points="190.6,125.7 186.0,134.8 183.0,142.5 180.4,150.5" fill="none" stroke="#1fa2e4" stroke-opacity="0.72" stroke-width="0.85"/>
<polyline points="184.5,100.0 186.3,106.8 187.3,114.7 185.3,124.7" fill="none" stroke="#1fa2e4" stroke-opacity="0.72" stroke-width="0.85"/>
<polyline points="183.0,125.7 179.9,133.3 176.9,141.0 175.4,148.5 172.3,156.3" fill="none" stroke="#1fa2e4" stroke-opacity="0.72" stroke-width="0.85"/>
<polyline points="144.7,175.7 147.6,181.8 146.2,186.4" fill="none" stroke="#1fa2e4" stroke-opacity="0.72" stroke-width="0.85"/>
<polyline points="129.5,166.6 134.0,168.1 138.6,169.6 142.9,170.9" fill="none" stroke="#1fa2e4" stroke-opacity="0.72" stroke-width="0.85"/>
<polyline points="127.9,183.4 129.5,178.8 134.0,174.1 138.6,171.8" fill="none" stroke="#1fa2e4" stroke-opacity="0.72" stroke-width="0.85"/>
<polyline points="126.4,191.0 127.9,186.4 130.6,181.8" fill="none" stroke="#1fa2e4" stroke-opacity="0.72" stroke-width="0.85"/>
<polyline points="164.4,166.6 162.1,171.2 160.7,176.3" fill="none" stroke="#1fa2e4" stroke-opacity="0.72" stroke-width="0.85"/>
<polyline points="144.3,200.1 147.3,206.3 150.3,212.4 151.9,218.5" fill="none" stroke="#1fa2e4" stroke-opacity="0.72" stroke-width="0.85"/>
<polyline points="153.4,200.1 157.9,206.3 161.8,213.9" fill="none" stroke="#1fa2e4" stroke-opacity="0.72" stroke-width="0.85"/>
<polyline points="139.7,218.5 142.0,224.6 142.7,230.7" fill="none" stroke="#1fa2e4" stroke-opacity="0.72" stroke-width="0.85"/>
<polyline points="138.0,220.0 143.9,227.0 147.8,232.9" fill="none" stroke="#1fa2e4" stroke-opacity="0.72" stroke-width="0.85"/>
<polyline points="129.5,160.4 135.5,158.9 141.6,157.3 147.6,158.1 153.8,159.6" fill="none" stroke="#1fa2e4" stroke-opacity="0.72" stroke-width="0.85"/>
<polyline points="129.5,174.9 137.1,171.8 144.7,168.9 153.8,165.0 161.4,162.7" fill="none" stroke="#1fa2e4" stroke-opacity="0.72" stroke-width="0.85"/>
<polyline points="134.0,179.5 140.1,174.9 146.2,171.2 151.8,167.9" fill="none" stroke="#1fa2e4" stroke-opacity="0.72" stroke-width="0.85"/>
<polyline points="138.6,180.3 143.1,176.5 147.6,172.6" fill="none" stroke="#1fa2e4" stroke-opacity="0.72" stroke-width="0.85"/>
<polyline points="159.9,171.8 161.4,167.3 162.6,163.4" fill="none" stroke="#1fa2e4" stroke-opacity="0.72" stroke-width="0.85"/>
<polyline points="167.4,158.1 173.5,152.0" fill="none" stroke="#1fa2e4" stroke-opacity="0.72" stroke-width="0.85"/>
<polyline points="132.1,182.3 131.1,188.2 130.1,194.2 132.1,200.1" fill="none" stroke="#1fa2e4" stroke-opacity="0.72" stroke-width="0.85"/>
<polyline points="153.8,170.4 155.7,178.3 156.7,186.2 158.7,194.2 160.7,202.1" fill="none" stroke="#1fa2e4" stroke-opacity="0.72" stroke-width="0.85"/>
<polyline points="129.6,160.2 135.4,159.0 141.1,157.3 145.8,157.3 151.5,159.6 157.3,160.2 163.1,160.8 166.5,161.9" fill="none" stroke="#1fa2e4" stroke-opacity="0.72" stroke-width="0.85"/>
<polyline points="131.9,166.5 137.7,165.4 143.5,163.7 149.2,162.5 155.0,161.9 160.8,161.3 165.4,162.5" fill="none" stroke="#1fa2e4" stroke-opacity="0.72" stroke-width="0.85"/>
<polyline points="128.5,168.8 131.9,171.1 136.5,171.7 142.3,170.0 148.1,167.7 153.8,166.0 159.6,164.2 165.4,163.7" fill="none" stroke="#1fa2e4" stroke-opacity="0.72" stroke-width="0.85"/>
<polyline points="153.8,171.1 151.5,176.9 149.2,182.7 148.1,188.4 149.2,194.2 150.4,200.0" fill="none" stroke="#1fa2e4" stroke-opacity="0.72" stroke-width="0.85"/>
<polyline points="145.8,175.8 143.5,181.5 142.3,187.3 141.1,193.1 140.0,200.0" fill="none" stroke="#1fa2e4" stroke-opacity="0.72" stroke-width="0.85"/>
<polyline points="138.8,173.5 136.5,178.1 134.2,182.7 131.9,187.3 129.6,191.9 127.3,196.5" fill="none" stroke="#1fa2e4" stroke-opacity="0.72" stroke-width="0.85"/>
<polyline points="135.4,174.6 131.9,178.1 129.6,181.5 127.3,185.0 126.2,189.6" fill="none" stroke="#1fa2e4" stroke-opacity="0.72" stroke-width="0.85"/>
<polyline points="161.9,167.7 163.1,171.1 161.9,173.5" fill="none" stroke="#1fa2e4" stroke-opacity="0.72" stroke-width="0.85"/>
<polyline points="140.0,183.8 144.6,185.0 148.0,184.0" fill="none" stroke="#1fa2e4" stroke-opacity="0.72" stroke-width="0.85"/>
<polyline points="136.5,189.6 135.4,194.2 136.5,200.0" fill="none" stroke="#1fa2e4" stroke-opacity="0.72" stroke-width="0.85"/>
<polyline points="143.6,195.0 142.4,201.4 143.6,207.8 146.2,214.2 148.8,220.6 150.0,227.0 149.4,232.2" fill="none" stroke="#1fa2e4" stroke-opacity="0.72" stroke-width="0.85"/>
<polyline points="150.0,195.0 151.3,201.4 153.9,207.8 156.5,214.2 157.7,220.6 156.5,225.8" fill="none" stroke="#1fa2e4" stroke-opacity="0.72" stroke-width="0.85"/>
<polyline points="156.5,201.4 160.3,207.8 164.2,215.5" fill="none" stroke="#1fa2e4" stroke-opacity="0.72" stroke-width="0.85"/>
<polyline points="139.8,207.8 143.6,211.7 147.5,216.8 151.3,220.6" fill="none" stroke="#1fa2e4" stroke-opacity="0.72" stroke-width="0.85"/>
<polyline points="137.2,221.9 133.4,224.5 129.5,227.0 127.0,229.6" fill="none" stroke="#1fa2e4" stroke-opacity="0.72" stroke-width="0.85"/>
<polyline points="143.6,220.6 141.1,227.0 139.8,232.2 138.5,236.0" fill="none" stroke="#1fa2e4" stroke-opacity="0.72" stroke-width="0.85"/>
<polyline points="127.4,170.3 130.5,167.2 134.6,165.1 139.7,164.1 144.9,163.1 150.0,162.0" fill="none" stroke="#1fa2e4" stroke-opacity="0.72" stroke-width="0.85"/>
<polyline points="126.9,183.6 128.5,180.5 130.5,177.4 133.6,174.4 137.7,172.3 142.8,170.3 148.0,169.2" fill="none" stroke="#1fa2e4" stroke-opacity="0.72" stroke-width="0.85"/>
<polyline points="127.4,190.8 129.5,186.7 132.6,182.6 135.6,178.5 139.7,175.4 144.9,172.3 150.0,170.3" fill="none" stroke="#1fa2e4" stroke-opacity="0.72" stroke-width="0.85"/>
<polyline points="130.5,193.8 133.6,189.7 135.6,185.6 138.7,181.5 142.8,177.4 148.0,174.4" fill="none" stroke="#1fa2e4" stroke-opacity="0.72" stroke-width="0.85"/>
<polyline points="135.6,200.0 135.6,194.9 137.7,190.8 140.8,186.7 143.8,182.6 148.0,179.5" fill="none" stroke="#1fa2e4" stroke-opacity="0.72" stroke-width="0.85"/>
<polyline points="142.8,200.0 140.8,194.9 139.7,190.8 141.0,186.0" fill="none" stroke="#1fa2e4" stroke-opacity="0.72" stroke-width="0.85"/>
<polyline points="146.0,200.0 147.0,206.0 150.0,212.0 153.0,218.0 154.0,224.0 153.0,230.0" fill="none" stroke="#1fa2e4" stroke-opacity="0.72" stroke-width="0.85"/>
<polyline points="140.0,214.0 136.0,218.0 132.0,222.0 128.0,224.0" fill="none" stroke="#1fa2e4" stroke-opacity="0.72" stroke-width="0.85"/>
<polyline points="148.0,222.0 145.0,228.0 144.0,234.0" fill="none" stroke="#1fa2e4" stroke-opacity="0.72" stroke-width="0.85"/>
<polyline points="152.0,205.0 156.0,209.0 159.0,213.0 161.0,219.0" fill="none" stroke="#1fa2e4" stroke-opacity="0.72" stroke-width="0.85"/>
<polyline points="137.0,205.0 134.0,210.0 132.0,216.0 129.0,219.0" fill="none" stroke="#1fa2e4" stroke-opacity="0.72" stroke-width="0.85"/>
<polyline points="154.0,226.0 152.0,231.0 150.0,235.0" fill="none" stroke="#1fa2e4" stroke-opacity="0.72" stroke-width="0.85"/>
<polyline points="141.0,198.0 139.0,203.0 137.0,208.0" fill="none" stroke="#1fa2e4" stroke-opacity="0.72" stroke-width="0.85"/>
<polyline points="133.0,228.0 135.0,232.0 134.0,237.0" fill="none" stroke="#1fa2e4" stroke-opacity="0.72" stroke-width="0.85"/>
<polyline points="213.2,33.3 219.4,31.3 227.6,30.3 235.8,31.3 244.0,34.4 252.2,38.5 260.4,41.5 268.6,45.6 274.7,50.8 276.8,54.9" fill="none" stroke="#1a9be0" stroke-width="1.3"/>
<polyline points="213.2,33.3 215.3,36.4 219.4,38.5 225.0,42.6 231.7,43.4 235.8,43.4 241.9,42.6 248.0,41.0" fill="none" stroke="#1a9be0" stroke-width="1.3"/>
<polyline points="225.0,42.6 224.2,45.7 221.9,48.8 220.4,51.8 219.6,54.9 220.4,58.0 218.8,61.1 217.3,64.2 214.2,66.5 211.2,67.2 205.0,70.0 200.0,74.0 196.5,78.0 194.8,82.0 194.4,84.8" fill="none" stroke="#1a9be0" stroke-width="1.3"/>
<polyline points="238.8,50.3 234.2,52.6 229.6,54.9 227.3,58.0 226.5,61.1 224.0,66.0 221.0,71.0" fill="none" stroke="#1a9be0" stroke-width="1.3"/>
<polyline points="249.6,53.4 243.5,54.2 237.3,56.5 233.5,59.5 231.9,61.8 231.0,66.0 232.0,70.0" fill="none" stroke="#1a9be0" stroke-width="1.3"/>
<polyline points="235.8,53.8 244.0,53.8 250.1,55.9" fill="none" stroke="#1a9be0" stroke-width="1.3"/>
<polyline points="194.4,84.8 192.8,89.4 189.8,95.5 186.8,101.6 184.5,109.3 182.2,115.3 181.4,120.7 180.4,128.6 178.4,136.6 176.5,142.6 175.4,148.5 172.3,156.3 166.6,160.4 163.2,161.9 156.8,165.0 149.2,169.6 143.1,173.4 138.6,177.2 135.5,181.8 133.2,186.4 132.5,191.0 134.0,197.1 137.1,201.6 139.0,206.3 139.7,212.4 138.2,218.5 135.2,224.6 132.2,230.7 129.1,235.3 126.8,237.6" fill="none" stroke="#1a9be0" stroke-width="1.3"/>
<polyline points="175.4,71.1 177.6,77.2 176.9,83.3 179.2,86.3 183.4,87.9 188.3,89.9 191.2,90.9" fill="none" stroke="#1a9be0" stroke-width="1.3"/>
<polyline points="227.0,58.5 229.9,66.1 233.0,73.8 234.7,77.0 233.5,82.2 232.7,88.2 231.2,92.8 228.1,97.4 225.1,102.0 222.0,106.6 219.1,111.2 216.0,115.7 212.0,121.7 208.0,125.2" fill="none" stroke="#1a9be0" stroke-width="1.3"/>
<polyline points="246.3,88.2 241.8,91.3 238.8,94.4 235.7,99.0 234.2,103.5 231.2,108.1 228.1,112.7 225.9,115.7 221.8,120.7 216.0,125.1" fill="none" stroke="#1a9be0" stroke-width="1.3"/>
<polyline points="252.4,119.9 240.3,123.0 228.1,125.1 216.0,125.1 205.9,126.1 197.8,129.1 191.7,133.2 185.6,139.3 181.6,145.4 177.5,150.5" fill="none" stroke="#1a9be0" stroke-width="1.3"/>
<polyline points="250.9,106.6 246.3,111.2 241.8,115.7 239.6,121.7 238.2,129.1 228.1,133.2 218.0,136.2 207.9,139.3 197.8,143.3 189.7,146.4 181.6,149.5 173.5,154.5 166.6,158.9 163.2,160.9" fill="none" stroke="#1a9be0" stroke-width="1.3"/>
<polyline points="246.3,99.0 243.3,103.5 240.3,108.1 237.2,112.7 235.2,118.7 236.2,131.1 226.1,137.3 216.0,141.4 205.9,144.3 195.8,147.4 185.6,150.5 176.5,156.5 168.6,160.4 163.2,162.9" fill="none" stroke="#1a9be0" stroke-width="1.3"/>
<polyline points="208.8,90.9 206.5,100.0 205.0,109.3 203.9,118.9 201.8,125.1 197.8,129.1" fill="none" stroke="#1a9be0" stroke-width="1.3"/>
<polyline points="114.3,197.1 117.4,201.6 120.4,206.3 120.7,209.6 118.4,213.9 113.9,218.5 112.4,220.8" fill="none" stroke="#1a9be0" stroke-width="1.3"/>
<polyline points="173.5,155.1 164.4,161.2 159.9,161.9 152.3,163.5 144.7,164.2 137.1,165.0 129.5,165.8" fill="none" stroke="#1a9be0" stroke-width="1.3"/>
<polyline points="43.5,202.7 40.3,207.2 34.5,207.8 30.0,210.4 26.2,214.2" fill="none" stroke="#1a9be0" stroke-width="1.3"/>
<polyline points="86.4,201.7 89.0,204.0 88.0,207.0 91.0,209.0 92.6,213.0" fill="none" stroke="#1a9be0" stroke-width="1.3"/>
<polyline points="195.9,93.2 200.4,95.5 208.0,97.9" fill="none" stroke="#1a9be0" stroke-width="1.3"/>
<polyline points="197.4,100.0 203.5,101.6 208.0,100.8" fill="none" stroke="#1a9be0" stroke-width="1.3"/>
<polyline points="233.5,19.1 229.0,20.6 222.8,23.7 218.3,26.8 214.4,29.8 212.2,32.1 213.0,34.3 216.0,35.9 219.8,38.3 224.3,39.8 227.4,42.1 230.4,41.3 235.0,42.1 239.6,43.5 242.6,45.0 245.5,50.8 251.6,53.2 257.8,55.4 262.3,56.9 268.4,56.1 274.4,56.9 279.0,54.7 282.0,53.2 287.3,52.3 293.8,48.8 300.0,45.0 303.0,43.5" fill="none" stroke="#4a4040" stroke-width="0.65"/>
<polyline points="222.8,55.0 226.0,57.5 228.9,59.1 231.9,61.5 235.6,63.1 238.0,66.1 241.1,67.6 242.5,69.1 240.3,71.5 239.6,75.2 240.3,79.0 238.8,82.0 241.1,86.7 245.5,88.2 247.9,90.5 250.2,92.9 253.0,95.0 257.0,98.5" fill="none" stroke="#4a4040" stroke-width="0.65"/>
<polyline points="195.0,50.6 197.0,53.0 196.0,57.0 193.0,60.0 191.0,63.0 190.0,66.0 191.0,69.0 194.0,72.0" fill="none" stroke="#4a4040" stroke-width="0.65"/>
<polyline points="168.2,73.9 170.3,76.4 173.4,77.4 174.4,79.4 173.4,81.5 171.3,82.0" fill="none" stroke="#4a4040" stroke-width="0.65"/>
<polyline points="174.4,79.4 178.5,76.4 181.6,76.9 183.6,80.0 182.6,82.0 179.5,81.0 177.5,84.0 177.5,86.6 175.4,88.7 177.5,91.7 179.5,92.8 177.5,94.8 174.4,96.9 171.3,97.9 170.3,100.0 169.3,102.0 168.3,104.0 168.3,107.1 169.3,110.2 170.3,112.0" fill="none" stroke="#4a4040" stroke-width="0.65"/>
<polyline points="158.0,101.0 162.1,101.5 165.7,100.0 168.0,101.0" fill="none" stroke="#4a4040" stroke-width="0.65"/>
<polyline points="187.7,82.5 191.8,84.6 194.9,81.5 197.0,80.5" fill="none" stroke="#4a4040" stroke-width="0.65"/>
<polyline points="188.0,72.5 190.0,70.0 192.0,73.0 194.0,69.0 196.0,72.0 198.0,70.0 200.0,73.0 203.0,70.0 205.0,72.0 208.0,69.0 212.0,70.0 216.0,68.0 220.0,66.0 223.0,62.0 222.8,57.0" fill="none" stroke="#4a4040" stroke-width="0.65"/>
<polyline points="165.4,95.0 166.9,99.6 168.5,101.9 170.0,106.5 170.8,110.4 173.1,111.9 173.8,114.2 174.6,115.8 173.1,120.4 172.3,124.2 170.8,128.1 169.2,130.4 168.5,133.5 166.9,137.3 164.6,141.2 163.0,144.2 163.8,147.3 164.6,150.4 163.0,153.5 161.5,156.5 158.5,159.6 155.4,161.2 147.7,161.5 143.5,161.8 137.1,165.0 130.7,167.4 125.2,169.8 122.0,172.2 120.4,176.9 119.6,181.7 118.8,188.0 119.5,192.0 121.2,196.0 122.2,200.2 123.1,205.5 121.4,210.0 117.0,215.4 112.2,220.5" fill="none" stroke="#4a4040" stroke-width="0.65"/>
<polyline points="171.5,95.0 171.5,101.2 173.1,107.3 174.6,110.4 176.2,112.7 178.5,113.2 181.5,113.5 184.6,112.7 186.2,110.4" fill="none" stroke="#4a4040" stroke-width="0.65"/>
<polyline points="158.5,159.6 164.0,161.5 167.0,163.5 168.6,167.2 172.3,169.5" fill="none" stroke="#4a4040" stroke-width="0.65"/>
<polygon points="195.0,50.6 198.5,46.9 196.9,42.3 193.1,36.9 190.5,33.8 192.3,31.2 196.2,28.5 198.2,26.2 200.3,27.2 203.1,25.1 206.9,22.3 212.3,20.3 220.0,19.2 227.7,18.5 233.0,18.5 237.0,19.5 241.0,18.0 245.8,16.9 253.5,16.5 259.6,16.9 263.5,19.5 265.8,21.0 269.6,22.0 271.9,24.6 272.7,28.5 271.9,32.3 274.2,34.6 279.6,36.2 282.7,35.4 285.8,37.7 290.4,40.0 295.4,43.5 302.3,43.5 306.9,46.5 310.0,50.4 312.3,55.8 316.9,57.3 321.5,60.4 324.6,62.7 323.0,65.0 320.8,67.3 320.8,72.0 323.0,75.8 326.0,79.6 328.3,82.0 329.2,86.2 328.3,91.5 325.7,95.1 322.0,94.2 320.3,89.7 316.7,88.9 312.2,88.9 308.6,91.5 305.9,88.0 303.2,84.4 298.7,86.2 295.1,87.0 289.7,84.4 284.4,81.7 280.8,81.7 275.4,84.4 271.8,87.0 270.8,90.8 268.5,93.0 266.0,94.6 262.0,96.0 257.0,98.5 253.8,100.0 249.2,103.0 248.5,107.0 249.2,110.0 249.2,115.4 247.7,117.7 245.4,120.8 241.5,123.8 239.2,127.0 238.5,130.0 237.0,132.5 234.6,134.6 230.8,136.2 228.5,139.2 226.9,143.1 223.8,146.9 220.8,150.8 217.7,152.8 214.6,153.8 210.8,155.4 208.5,158.5 206.9,162.3 203.8,166.2 200.8,169.2 196.2,170.3 191.5,170.8 186.9,171.5 182.3,170.8 179.2,167.7 176.2,167.4 172.3,170.8 168.5,175.4 164.6,179.2 161.5,183.1 160.8,187.7 163.8,190.8 169.2,192.3 172.3,194.6 172.0,198.0 170.8,200.5 171.5,203.5 175.4,205.8 179.2,208.1 180.8,211.9 183.1,216.5 186.2,221.2 186.9,225.8 188.5,228.1 186.2,228.8 183.1,231.2 180.0,231.9 178.5,229.6 175.4,229.2 172.3,230.4 169.2,231.9 164.6,232.7 160.0,231.6 156.9,230.7 153.8,231.2 150.0,232.5 145.0,235.0 141.7,237.5 140.0,239.5 138.5,239.8 135.9,239.7 133.3,237.8 129.5,236.5 125.6,235.3 122.4,233.3 121.2,228.8 119.2,225.0 116.7,222.4 112.8,221.2 111.5,219.2 110.3,213.5 108.3,210.3 106.4,209.0 103.8,209.6 99.7,212.8 91.5,213.8 83.3,214.6 75.4,215.6 66.5,213.3 58.7,214.6 55.0,214.9 48.6,215.5 43.5,214.9 38.3,215.5 34.5,216.2 30.0,216.8 27.4,217.4 25.5,218.1 24.2,214.9 24.9,211.0 26.2,208.5 26.8,205.3 27.4,201.4 29.4,198.8 32.6,197.6 34.5,195.6 36.4,193.1 40.9,191.8 46.0,191.2 50.5,190.5 52.4,186.7 53.1,182.8 50.5,181.5 46.0,181.5 44.1,180.3 44.1,175.1 43.5,170.0 43.5,164.6 39.6,163.3 35.8,161.4 30.6,160.8 25.5,156.9 21.7,151.8 19.1,146.7 15.3,142.8 10.8,138.2 18.9,140.5 28.1,143.0 37.3,145.3 46.6,144.8 55.8,143.9 65.0,145.3 69.7,143.0 78.9,141.6 88.1,140.7 91.0,140.4 97.4,138.9 104.5,136.5 106.0,134.1 105.3,130.2 104.5,125.4 106.1,121.4 108.5,119.0 111.7,115.0 115.6,112.4 119.6,113.5 124.4,114.3 128.4,111.9 130.0,109.2 133.9,107.1 137.9,103.9 141.9,104.7 145.0,104.4 148.5,107.1 152.7,106.4 154.8,103.5 154.8,98.6 155.5,94.4 157.6,90.8 159.7,87.3 161.2,85.2 163.3,83.8 168.2,83.1 171.0,82.4 173.1,80.3 172.4,77.4 170.3,75.3 168.2,73.9 166.8,71.1 168.2,68.3 173.9,67.6 180.9,67.6 185.8,66.9 188.0,64.7 190.1,61.2 190.8,57.7 192.9,55.6 194.3,52.8" fill="none" stroke="#3c3c3c" stroke-width="0.75"/>
</g>
<rect x="271.5" y="113.3" width="105.0" height="156.2" fill="#e1e1e1" stroke="#3a3a3a" stroke-width="0.9"/>
<g font-family="Liberation Sans, Arial, sans-serif" fill="#111">
<text x="297.2" y="125.4" font-size="6.6" font-weight="bold" textLength="53.2" lengthAdjust="spacingAndGlyphs">Climatic suitability</text>
<text x="301.1" y="132.4" font-size="6.6" font-weight="bold" textLength="45.9" lengthAdjust="spacingAndGlyphs">under irrigation</text>
<text x="279" y="141.6" font-size="6.0" font-weight="bold" textLength="64.4" lengthAdjust="spacingAndGlyphs">EI under current climate</text>
<rect x="280.9" y="145.2" width="9.1" height="8.5" fill="#ffffff"/>
<text x="295.5" y="152.2" font-size="4.6">0</text>
<rect x="280.9" y="157.3" width="9.1" height="8.5" fill="#fba685"/>
<text x="295.5" y="164.3" font-size="4.6" textLength="11.4" lengthAdjust="spacingAndGlyphs">1 - 15</text>
<rect x="280.9" y="169.1" width="9.1" height="8.5" fill="#f25a3e"/>
<text x="295.5" y="176.1" font-size="4.6" textLength="13.9" lengthAdjust="spacingAndGlyphs">16 - 30</text>
<rect x="280.9" y="180.9" width="9.1" height="8.5" fill="#ea0000"/>
<text x="295.5" y="187.9" font-size="4.6" textLength="8.8" lengthAdjust="spacingAndGlyphs">&gt; 30</text>
<text x="278.4" y="198.9" font-size="6.1" font-weight="bold" textLength="91" lengthAdjust="spacingAndGlyphs">EI with irrigation (climate change)</text>
<rect x="280.9" y="201.5" width="9.1" height="8.5" fill="#ffffff"/>
<text x="295.5" y="208.5" font-size="4.6">0</text>
<rect x="280.9" y="213.4" width="9.1" height="8.5" fill="#55ec88"/>
<text x="295.5" y="220.4" font-size="4.6" textLength="11.4" lengthAdjust="spacingAndGlyphs">1 - 15</text>
<rect x="280.9" y="225.4" width="9.1" height="8.5" fill="#1ddc55"/>
<text x="295.5" y="232.4" font-size="4.6" textLength="13.9" lengthAdjust="spacingAndGlyphs">16 - 30</text>
<rect x="280.9" y="237.4" width="9.1" height="8.5" fill="#06cc1a"/>
<text x="295.5" y="244.4" font-size="4.6" textLength="13.9" lengthAdjust="spacingAndGlyphs">31 - 47</text>
<line x1="278.2" y1="252.3" x2="292.8" y2="252.3" stroke="#45a2e2" stroke-width="1.2"/>
<text x="295.8" y="254.0" font-size="4.6" textLength="12.6" lengthAdjust="spacingAndGlyphs">Rivers</text>
<line x1="278.2" y1="260.5" x2="292.8" y2="260.5" stroke="#62b6e6" stroke-width="1.2"/>
<text x="295.8" y="262.2" font-size="4.6" textLength="12.9" lengthAdjust="spacingAndGlyphs">canals</text>
</g>
<rect x="272.3" y="382.6" width="103.3" height="155.7" fill="#e1e1e1" stroke="#3a3a3a" stroke-width="0.9"/>
<g font-family="Liberation Sans, Arial, sans-serif" fill="#111">
<text x="297.2" y="394.5" font-size="6.6" font-weight="bold" textLength="53.2" lengthAdjust="spacingAndGlyphs">Climatic suitability</text>
<text x="301.1" y="401.5" font-size="6.6" font-weight="bold" textLength="45.9" lengthAdjust="spacingAndGlyphs">under irrigation</text>
<text x="279" y="410.7" font-size="6.0" font-weight="bold" textLength="64.1" lengthAdjust="spacingAndGlyphs">EI under climate change</text>
<rect x="280.9" y="414.3" width="9.1" height="8.5" fill="#ffffff"/>
<text x="294.2" y="421.3" font-size="4.6">0</text>
<rect x="280.9" y="426.4" width="9.1" height="8.5" fill="#fba685"/>
<text x="294.2" y="433.4" font-size="4.6" textLength="10.8" lengthAdjust="spacingAndGlyphs">1 - 15</text>
<rect x="280.9" y="438.2" width="9.1" height="8.5" fill="#f25a3e"/>
<text x="294.2" y="445.2" font-size="4.6" textLength="13.2" lengthAdjust="spacingAndGlyphs">16 - 30</text>
<rect x="280.9" y="450.0" width="9.1" height="8.5" fill="#ea0000"/>
<text x="294.2" y="457.0" font-size="4.6" textLength="8.3" lengthAdjust="spacingAndGlyphs">&gt; 30</text>
<text x="278.4" y="468.0" font-size="6.1" font-weight="bold" textLength="91" lengthAdjust="spacingAndGlyphs">EI with irrigation (climate change)</text>
<rect x="280.9" y="470.6" width="9.1" height="8.5" fill="#ffffff"/>
<text x="294.2" y="477.6" font-size="4.6">0</text>
<rect x="280.9" y="482.5" width="9.1" height="8.5" fill="#55ec88"/>
<text x="294.2" y="489.5" font-size="4.6" textLength="10.8" lengthAdjust="spacingAndGlyphs">1 - 15</text>
<rect x="280.9" y="494.5" width="9.1" height="8.5" fill="#1ddc55"/>
<text x="294.2" y="501.5" font-size="4.6" textLength="13.2" lengthAdjust="spacingAndGlyphs">16 - 30</text>
<rect x="280.9" y="506.5" width="9.1" height="8.5" fill="#06cc1a"/>
<text x="294.2" y="513.5" font-size="4.6" textLength="8.3" lengthAdjust="spacingAndGlyphs">&gt; 30</text>
<line x1="278.2" y1="521.4" x2="292.8" y2="521.4" stroke="#45a2e2" stroke-width="1.2"/>
<text x="294.5" y="523.1" font-size="4.6" textLength="12.0" lengthAdjust="spacingAndGlyphs">Rivers</text>
<line x1="278.2" y1="529.6" x2="292.8" y2="529.6" stroke="#62b6e6" stroke-width="1.2"/>
<text x="294.5" y="531.3" font-size="4.6" textLength="12.2" lengthAdjust="spacingAndGlyphs">canals</text>
</g>
<text x="349.3" y="15.7" font-family="Liberation Sans, Arial, sans-serif" font-size="4.2" text-anchor="middle" fill="#222">N</text>
<polygon points="349.6,19.2 354.7,34 349.6,30.1 344.5,34" fill="#000"/>
<text x="371.7" y="20.6" font-family="Liberation Sans, Arial, sans-serif" font-size="7.6" font-weight="bold" fill="#111">A</text>
<text x="372.5" y="287.5" font-family="Liberation Sans, Arial, sans-serif" font-size="7.6" font-weight="bold" fill="#111">B</text>

<g font-family="Liberation Sans, Arial, sans-serif" font-size="3.6" fill="#222" text-anchor="middle">
<text x="12.6" y="533.8">0</text><text x="25" y="533.8">50</text><text x="38" y="533.8">100</text>
<text x="63.2" y="533.8">200</text><text x="88.6" y="533.8">300</text><text x="113.6" y="533.8">400</text>
<text x="118.8" y="537.8">Miles</text>
</g>
<rect x="12.4" y="535.4" width="101.6" height="1.9" fill="#000"/>
<rect x="18.8" y="535.8" width="6.3" height="1.1" fill="#aaa"/>
<rect x="31.5" y="535.8" width="6.3" height="1.1" fill="#aaa"/>
<rect x="63.2" y="535.8" width="25.4" height="1.1" fill="#aaa"/>

<rect x="6.5" y="7.5" width="376" height="535.5" fill="none" stroke="#444" stroke-width="1"/>
<line x1="6.5" y1="274.5" x2="382.5" y2="274.5" stroke="#444" stroke-width="1"/>
</svg>
</body></html>
